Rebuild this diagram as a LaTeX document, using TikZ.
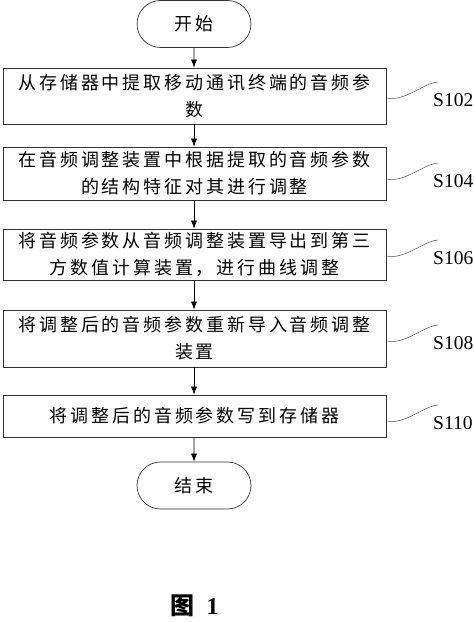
\documentclass[tikz,border=0pt]{standalone}
\usepackage{fontspec}
\setmainfont{Liberation Serif}
\newfontfamily\cjk[LetterSpace=16]{Noto Sans CJK SC}
\newfontfamily\cjkplain{Noto Sans CJK SC}
\usetikzlibrary{shapes.misc, arrows.meta, positioning}

\begin{document}
\begin{tikzpicture}[x=1pt, y=1pt,
    stepbox/.style={draw=black!80, line width=0.7pt, inner sep=0pt,
      minimum width=383pt, align=center,
      font=\cjk\fontsize{18}{27}\selectfont},
    terminal/.style={draw=black!80, line width=0.7pt, rounded rectangle,
      inner sep=0pt, minimum width=114pt, minimum height=47pt,
      font=\cjk\fontsize{18}{22}\selectfont},
    flow/.style={-{Latex[length=8pt, width=6pt]}, line width=0.7pt},
    leader/.style={line width=0.5pt, black!70},
    steplabel/.style={anchor=base west, inner sep=0pt,
      font=\fontsize{19.5}{22}\selectfont}]
    \useasboundingbox (0,0) rectangle (474,622);
    % start / end
    \node[terminal] (start) at (194,598) {开始};
    \node[terminal] (stop) at (194,136.5) {结束};
    % steps
    \node[stepbox, minimum height=56pt] (s102) at (194.5,526)
      {从存储器中提取移动通讯终端的音频参\\数};
    \node[stepbox, minimum height=53pt] (s104) at (194.5,448.5)
      {在音频调整装置中根据提取的音频参数\\的结构特征对其进行调整};
    \node[stepbox, minimum height=51pt] (s106) at (194.5,367.5)
      {将音频参数从音频调整装置导出到第三\\方数值计算装置，进行曲线调整};
    \node[stepbox, minimum height=57pt] (s108) at (194.5,283.5)
      {将调整后的音频参数重新导入音频调整\\装置};
    \node[stepbox, minimum height=42pt] (s110) at (194.5,206)
      {将调整后的音频参数写到存储器};
    % flow arrows
    \draw[flow] (start) -- (start |- s102.north);
    \draw[flow] (start |- s102.south) -- (start |- s104.north);
    \draw[flow] (start |- s104.south) -- (start |- s106.north);
    \draw[flow] (start |- s106.south) -- (start |- s108.north);
    \draw[flow] (start |- s108.south) -- (start |- s110.north);
    \draw[flow] (start |- s110.south) -- (stop);
    % step labels with leaders
    \foreach \s/\ly in {s102/515, s104/434, s106/357, s108/272, s110/192} {
      \node[steplabel] (l\s) at (433,\ly) {\MakeUppercase{\s}};
      \coordinate (b\s) at ([yshift=9pt]l\s.base west);
      \coordinate (e\s) at ([shift={(5,25)}]l\s.base west);
      \draw[leader] (\s.east |- b\s) .. controls +(18,-4) and +(-14,-1) .. (e\s);
    }
    % caption
    \node[inner sep=0pt, font=\fontsize{24}{28}\selectfont\bfseries] (fig) at (194.5,16)
      {{\cjkplain 图}\hspace{12pt}1};
\end{tikzpicture}
\end{document}
